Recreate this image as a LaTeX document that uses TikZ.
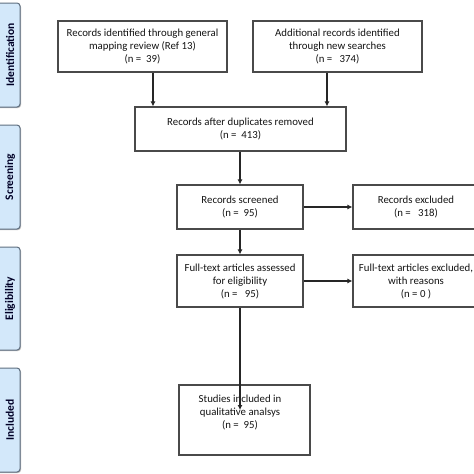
\documentclass[tikz,border=0pt]{standalone}
\usepackage{fontspec}
\setmainfont{Carlito}
\usetikzlibrary{arrows.meta,shadows}
\definecolor{barfill}{HTML}{D3E8FA}
\definecolor{barline}{HTML}{5F6F80}
\definecolor{boxline}{HTML}{4A4A4A}
\definecolor{txt}{HTML}{141414}
\tikzset{
  stagebar/.style={draw=barline, line width=1pt, fill=barfill, rounded corners=3pt,
    drop shadow={shadow xshift=1pt, shadow yshift=-1pt, fill=black!45, opacity=0.6}},
  stagetext/.style={rotate=90, font=\fontsize{11.5}{13}\selectfont\bfseries, text=black!85!blue},
  flowbox/.style={draw=boxline, line width=1.1pt, fill=white, align=center, inner sep=0pt,
    font=\fontsize{10.8}{13}\selectfont, text=txt},
  flowarrow/.style={draw=black!85, line width=1.1pt, -{Latex[length=5pt,width=5pt]}},
}
\begin{document}
\begin{tikzpicture}[x=1pt,y=-1pt]
\useasboundingbox (0,0) rectangle (474,474);
\fill[white] (0,0) rectangle (474,474);
% stage bars
\node[stagebar, minimum width=24pt, minimum height=104pt, inner sep=0pt] (b1) at (8,55) {};
\node[stagebar, minimum width=24pt, minimum height=104pt, inner sep=0pt] (b2) at (8,177) {};
\node[stagebar, minimum width=24pt, minimum height=103pt, inner sep=0pt] (b3) at (8,298.5) {};
\node[stagebar, minimum width=24pt, minimum height=104pt, inner sep=0pt] (b4) at (8,420) {};
\node[stagetext] (t1) at (10,55) {Identification};
\node[stagetext] (t2) at (10,177) {Screening};
\node[stagetext] (t3) at (10,298.5) {Eligibility};
\node[stagetext] (t4) at (10,420) {Included};
% boxes
\node[flowbox, minimum width=169pt, minimum height=51pt] (r1) at (142.5,46.5)
  {Records identified through general\\mapping review (Ref 13)\\(n =\ \ 39)};
\node[flowbox, minimum width=169pt, minimum height=51pt] (r2) at (337.5,46.5)
  {Additional records identified\\through new searches\\(n =\ \ \ 374)};
\node[flowbox, minimum width=211pt, minimum height=44pt] (r3) at (240.5,129)
  {Records after duplicates removed\\(n =\ \ 413)};
\node[flowbox, minimum width=126pt, minimum height=44pt] (r4) at (240,207)
  {Records screened\\(n =\ \ 95)};
\node[flowbox, minimum width=126pt, minimum height=44pt] (r5) at (416,207)
  {Records excluded\\(n =\ \ \ 318)};
\node[flowbox, minimum width=126pt, minimum height=52pt] (r6) at (240,281)
  {Full-text articles assessed\\for eligibility\\(n =\ \ \ 95)};
\node[flowbox, minimum width=126pt, minimum height=52pt] (r7) at (416,281)
  {Full-text articles excluded,\\with reasons\\(n = 0 )};
\node[flowbox, minimum width=131pt, minimum height=70pt] (r8) at (244.5,420) {};
\node[flowbox, draw=none, fill=none] (r8t) at (240,412)
  {Studies included in\\qualitative analsys\\(n =\ \ 95)};
\coordinate (r8in) at (240,410);
% arrows
\draw[flowarrow] (r1.south -| 153,0) -- (r3.north -| 153,0);
\draw[flowarrow] (r2.south -| 327,0) -- (r3.north -| 327,0);
\draw[flowarrow] (r3.south -| r4) -- (r4.north);
\draw[flowarrow] (r4.east) -- (r5.west);
\draw[flowarrow] (r4.south) -- (r6.north);
\draw[flowarrow] (r6.east) -- (r7.west);
\draw[flowarrow] (r6.south) -- (r8in);
\end{tikzpicture}
\end{document}
